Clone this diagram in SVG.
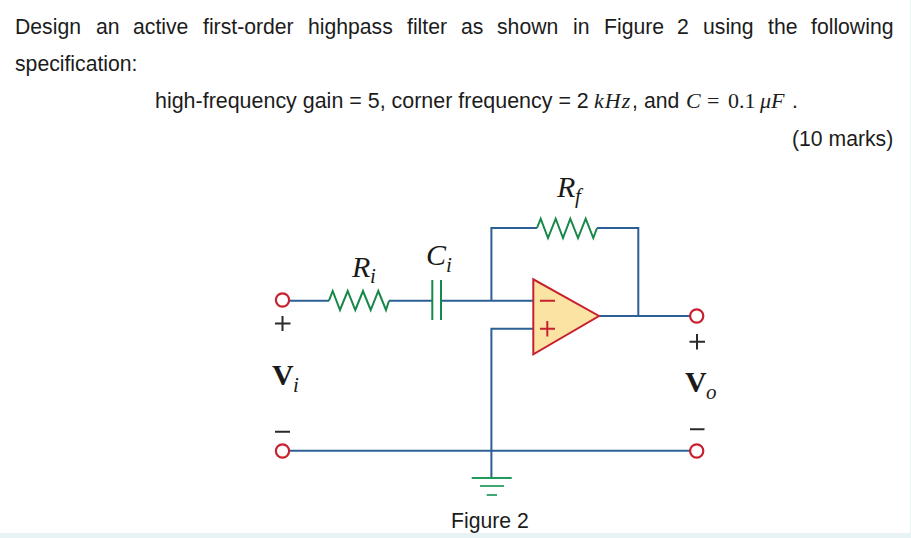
<svg xmlns="http://www.w3.org/2000/svg" width="911" height="538" viewBox="0 0 911 538">
<style>
.t{font-family:"Liberation Sans",Arial,sans-serif;font-size:21.2px;fill:#1c1c1c}
.m{font-family:"Liberation Serif","Times New Roman",serif;font-size:22px;fill:#1c1c1c}
.i{font-style:italic}
.lab{font-family:"Liberation Serif","Times New Roman",serif;font-style:italic;fill:#1a1a1a}
.v{font-family:"Liberation Serif","Times New Roman",serif;font-weight:bold;font-size:30px;fill:#1a1a1a}
.w{fill:none;stroke:#2b5f95;stroke-width:2}
.g{fill:none;stroke:#16894a;stroke-width:2}
.term{fill:#fff;stroke:#c8202f;stroke-width:2.2}
.sg{fill:none;stroke:#2a2a2a;stroke-width:2}
</style>
<rect width="911" height="538" fill="#fff"/>
<path d="M910 0H911V538H0V533H910Z" fill="#e8f3f6"/>
<g id="statement">
<text class="t" y="34"><tspan x="15">Design</tspan><tspan x="96">an</tspan><tspan x="133">active</tspan><tspan x="203">first-order</tspan><tspan x="308">highpass</tspan><tspan x="407">filter</tspan><tspan x="461">as</tspan><tspan x="497">shown</tspan><tspan x="573">in</tspan><tspan x="604">Figure</tspan><tspan x="677">2</tspan><tspan x="703">using</tspan><tspan x="768">the</tspan><tspan x="811">following</tspan></text>
<text class="t" x="15" y="71">specification:</text>
<text class="t" x="155" y="108" style="font-size:21.45px">high-frequency gain = 5, corner frequency = 2</text>
<text class="m i" x="594" y="108" letter-spacing="1">kHz</text>
<text class="t" x="632" y="108">,</text>
<text class="t" x="644" y="108">and</text>
<text class="m i" x="686" y="108">C</text>
<text class="m" x="707" y="108">=</text>
<text class="m" x="728" y="108">0.1</text>
<text class="m i" x="760" y="108">μF</text>
<text class="t" x="792" y="108">.</text>
<text class="t" x="792" y="146">(10 marks)</text>
</g>
<g id="connectors">
<path class="w" d="M289 300.7H329M389 300.7H432.3M441 300.7H533"/>
<path class="w" d="M491.4 300.7V228H537M597 228H638.3V316"/>
<path class="w" d="M599 316H690"/>
<path class="w" d="M533 328.7H491.4V478"/>
<path class="w" d="M289 450.7H690"/>
</g>
<g id="Ri">
<path class="g" d="M329 300.7L332.7 291L340 310L347.7 291L355.3 310L363 291L370.7 310L378.3 291L386 310L389 300.7"/>
<text class="lab" x="352" y="277" font-size="30">R</text>
<text class="lab" x="370" y="283" font-size="21">i</text>
</g>
<g id="Ci">
<path class="g" d="M432.3 280V320M441 280V320"/>
<text class="lab" x="426" y="265" font-size="30">C</text>
<text class="lab" x="446" y="272" font-size="21">i</text>
</g>
<g id="Rf">
<path class="g" d="M537 228L540.7 218.7L548 238L555.7 218.7L563 238L570.3 218.7L578 238L585.7 218.7L593.3 238L597 228"/>
<text class="lab" x="557" y="197" font-size="30">R</text>
<text class="lab" x="575" y="203" font-size="21">f</text>
</g>
<g id="opamp">
<path d="M533.3 279.3V354.3L599 316Z" fill="#fbe4a3" stroke="#c8202f" stroke-width="2" stroke-linejoin="miter"/>
<path fill="none" stroke="#c8202f" stroke-width="2" d="M540 300.7H555M547.3 321V336.5M540 328.7H555"/>
</g>
<g id="ground">
<path fill="none" stroke="#1f9a5a" stroke-width="2" d="M471.7 478H511.7"/>
<path fill="none" stroke="#3fa874" stroke-width="2" d="M480 486H504M486.7 495H497"/>
</g>
<g id="Vi">
<circle class="term" cx="282.5" cy="300" r="6.6"/>
<circle class="term" cx="282.5" cy="451" r="6.6"/>
<path class="sg" d="M275 323.5H290.5M282.5 316V331M275 431.7H290"/>
<text class="v" x="272" y="385">V</text>
<text class="lab" x="293" y="392" font-size="21">i</text>
</g>
<g id="Vo">
<circle class="term" cx="696.7" cy="316" r="6.6"/>
<circle class="term" cx="696.7" cy="451" r="6.6"/>
<path class="sg" d="M689.5 341.7H705M697 334V349.5M690 429.3H704.5"/>
<text class="v" x="685" y="392">V</text>
<text class="lab" x="706" y="399" font-size="21">o</text>
</g>
<text class="t" x="451" y="528">Figure 2</text>
</svg>
